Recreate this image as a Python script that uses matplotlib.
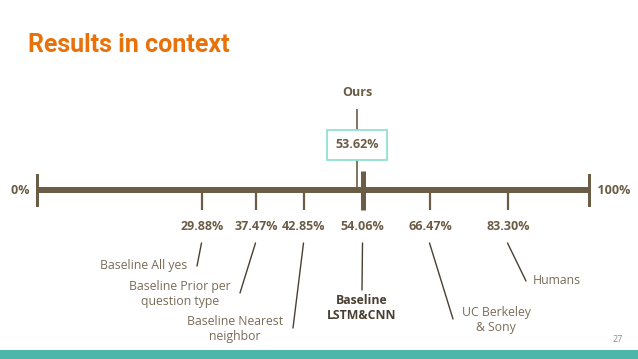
import matplotlib
matplotlib.use('Agg')
import matplotlib.pyplot as plt
import numpy as np
from matplotlib.patches import ConnectionPatch, Rectangle

# --- data ---
names = ["Baseline All yes", "Baseline Prior per\nquestion type", "Baseline Nearest\nneighbor",
         "Baseline\nLSTM&CNN", "UC Berkeley\n& Sony", "Humans"]
scores = [29.88, 37.47, 42.85, 54.06, 66.47, 83.30]
ours_label = "Ours"
ours_score = 53.62

# slide layout is not to scale: piecewise mapping value -> pixel on the line
anchor_val = np.array([0, 29.88, 37.47, 42.85, 53.62, 54.06, 66.47, 83.30, 100])
anchor_px = np.array([36, 202, 256, 304, 357, 362.5, 430, 508, 591])

def fwd(v):
    return np.interp(v, anchor_val, anchor_px)

def inv(p):
    return np.interp(p, anchor_px, anchor_val)

BROWN = "#6b5c45"
TEXT = "#7a6b58"
DARK = "#4a3f33"
W, H = 638, 359

fig = plt.figure(figsize=(W / 100, H / 100), dpi=100, facecolor="white")

# timeline axes: x in percent, y in pixels from top
ax = fig.add_axes([36 / W, 0, 555 / W, 1])
ax.set_xscale("function", functions=(fwd, inv))
ax.set_xlim(0, 100)
ax.set_ylim(H, 0)
ax.axis("off")

# overlay axes in pixel coords for free text
ov = fig.add_axes([0, 0, 1, 1], zorder=5)
ov.set_xlim(0, W)
ov.set_ylim(H, 0)
ov.axis("off")
ov.patch.set_alpha(0)

# main line and end caps
ax.plot([0, 100], [190, 190], color=BROWN, lw=4.3, solid_capstyle="butt", zorder=2)
ax.vlines([0, 100], 174, 207, color=BROWN, lw=4.3, zorder=3)
ax.text(0, 191, "0%  ", ha="right", va="center", fontsize=9, fontweight="bold",
        color=BROWN, family="Open Sans")
ax.text(100, 191, "  100%", ha="left", va="center", fontsize=9, fontweight="bold",
        color=BROWN, family="Open Sans")

# score ticks + labels
for name, s in zip(names, scores):
    if "LSTM" in name:
        ax.vlines(s, 171, 210, color=BROWN, lw=3.6, zorder=3)
    else:
        ax.vlines(s, 190, 210, color=BROWN, lw=1.6, zorder=3)
    ax.text(s, 227, f"{s:.2f}%", ha="center", va="center", fontsize=9,
            fontweight="bold", color=BROWN, family="Open Sans")

# leader line ends and name positions (pixels)
leader_end = [(197, 266), (240, 293), (293, 328), (362, 290), (453, 319), (526, 281)]
name_pos = [(187, 265, "right"), (180, 294, "center"), (235, 329, "center"),
            (362, 308, "center"), (496, 320, "center"), (557, 281, "center")]

for s, (ex, ey), (nx, ny, ha), name in zip(scores, leader_end, name_pos, names):
    bold = "LSTM" in name
    start_x = s if bold else inv(fwd(s) - 0.5)
    con = ConnectionPatch(xyA=(start_x, 243), coordsA=ax.transData,
                          xyB=(ex, ey), coordsB=ov.transData,
                          color=DARK, lw=1.0)
    ov.add_artist(con)
    ov.text(nx, ny, name, ha=ha, va="center", multialignment="center",
            fontsize=8.8, linespacing=1.25, family="Open Sans",
            fontweight="bold" if bold else "normal",
            color=DARK if bold else TEXT)

# ours marker
ax.vlines(ours_score, 109, 188, color=BROWN, lw=1.2, zorder=2)
ax.text(ours_score, 145, f"{ours_score:.2f}%", ha="center", va="center", fontsize=9,
        fontweight="bold", color=BROWN, family="Open Sans", zorder=6,
        bbox=dict(boxstyle="square,pad=0.68", facecolor="white", edgecolor="#8fe0d5", lw=1.3))
ax.text(ours_score, 92, ours_label, ha="center", va="center", fontsize=9,
        fontweight="bold", color=BROWN, family="Open Sans")

# title, page number, footer bar
ov.text(28, 52, "Results in context", ha="left", va="baseline", fontsize=18,
        fontweight="bold", color="#e8710a", family="Roboto")
ov.text(618, 339, "27", ha="center", va="center", fontsize=6.5, color="#8a8a8a",
        family="Open Sans")
ov.add_patch(Rectangle((0, 350), W, 9, facecolor="#4db6ab", edgecolor="none"))

plt.savefig("out.png", dpi=100, facecolor="white")
